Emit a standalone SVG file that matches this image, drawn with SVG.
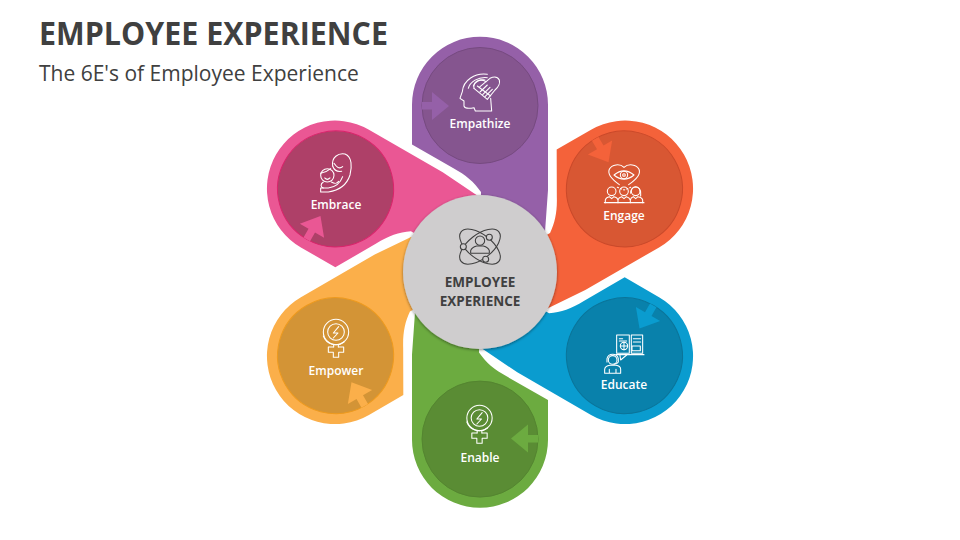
<svg xmlns="http://www.w3.org/2000/svg" xmlns:xlink="http://www.w3.org/1999/xlink" width="960" height="540" viewBox="0 0 960 540">
<style>
text{font-family:"Open Sans","Liberation Sans",sans-serif}
.t{font-size:32px;font-weight:700;fill:#404040}
.s{font-size:21px;fill:#404040}
.l{font-size:12px;font-weight:600;fill:#fff;text-anchor:middle}
.c{font-size:13.5px;font-weight:700;fill:#404040;text-anchor:middle}
.i{fill:none;stroke:#fff;stroke-width:3.2;stroke-linejoin:round;stroke-linecap:round}
.d{fill:none;stroke:#404040;stroke-width:3.2;stroke-linejoin:round;stroke-linecap:round}
</style>
<defs>
<path id="petal" d="M412,104.800 A68,68 0 0 1 548,104.800 V190 L545,232 L480,272 L481,192 C474,182 466,175 453,168 L412,144.500 Z"/>
<path id="arrow" d="M422,102 H432 V92 L449,106 L432,120 V109.500 H422 Z"/>
<circle id="disc" cx="480" cy="105.500" r="58" stroke-width="1"/>
<g id="ring" class="i" transform="scale(.3333)">
<circle r="38"/><circle r="25"/><path d="M-38,12 A40,40 0 0 0 24,30"/><path d="M8,-16 L-8,3 H6 L-8,18"/>
<path d="M-7,39 V45 M7,39 V45"/>
<path d="M-8,45 H-8 V45 H-23 V61 H-8 V76 H8 V61 H23 V45 H8"/>
</g>
<filter id="sh" x="-20%" y="-20%" width="140%" height="140%"><feDropShadow dx="0" dy="1" stdDeviation="1.500" flood-color="#000" flood-opacity=".45"/></filter>
</defs>
<text class="t" x="39" y="45" textLength="349" lengthAdjust="spacingAndGlyphs">EMPLOYEE EXPERIENCE</text>
<text class="s" x="39" y="81">The 6E's of Employee Experience</text>

<g id="embrace">
<g transform="rotate(-60 480 272.300)"><use href="#petal" fill="#EA5794"/><use href="#disc" fill="#AE4068" stroke="#D9246B"/><use href="#arrow" fill="#EA5794"/></g>
<g class="i" transform="translate(260,110) scale(.3333)">
<path d="M218,168 C214,142 235,128 255,132 C277,140 276,172 270,195 C262,220 245,240 205,246 H182 V234 H205 C225,232 240,222 248,200"/>
<path d="M222,160 C230,172 238,178 248,170 M218,168 C222,180 232,186 245,184"/>
<circle cx="202" cy="196" r="20"/><path d="M182,190 C195,188 205,182 212,176 M194,204 Q202,212 210,204"/>
<path d="M190,216 C180,222 182,232 190,234 M214,216 C225,222 230,222 236,214"/>
</g>
<text class="l" x="336" y="209">Embrace</text>
</g>

<g id="empower">
<g transform="rotate(-120 480 272.300)"><use href="#petal" fill="#FBAF4A"/><use href="#disc" fill="#D39436" stroke="#EE9A1E"/><use href="#arrow" fill="#FBAF4A"/></g>
<use href="#ring" transform="translate(336,332)"/>
<text class="l" x="336" y="375">Empower</text>
</g>

<g id="enable">
<g transform="rotate(180 480 272.300)"><use href="#petal" fill="#6CAB40"/><use href="#disc" fill="#5A8C34" stroke="#548530"/><use href="#arrow" fill="#6CAB40"/></g>
<use href="#ring" transform="translate(479.500,418)"/>
<text class="l" x="480" y="462">Enable</text>
</g>

<g id="educate">
<g transform="rotate(120 480 272.300)"><use href="#petal" fill="#0A9CCF"/><use href="#disc" fill="#0981AB" stroke="#0B7499"/><use href="#arrow" fill="#0A9CCF"/></g>
<g class="i" transform="translate(470,270) scale(.3333)">
<path d="M440,195 H478 V250 H440 Z M484,195 H518 V250 H484 Z M438,254 H522"/>
<circle cx="462" cy="228" r="11"/><path d="M451,228 H473 M462,217 V239 M448,206 H458 M448,213 H470 M490,206 H512 M490,216 H512"/>
<rect x="486" y="228" width="25" height="14"/>
<path d="M450,256 L452,270 L470,255"/>
<circle cx="428" cy="270" r="13"/><path d="M411,276 V266 Q414,253 428,253 Q442,253 445,266 V276 M445,276 Q442,282 432,283"/>
<path d="M404,310 V298 Q405,288 420,286 H438 Q452,288 452,298 V310 Z M418,310 V298 M438,310 V298"/>
</g>
<text class="l" x="624" y="389">Educate</text>
</g>

<g id="engage">
<g transform="rotate(60 480 272.300)"><use href="#petal" fill="#F4623A"/><use href="#disc" fill="#D85733" stroke="#C9492A"/><use href="#arrow" fill="#F4623A"/></g>
<g class="i" transform="translate(540,110) scale(.3333)">
<path d="M238,224 C215,208 202,192 208,178 C215,163 240,160 252,172 C265,160 290,163 297,178 C303,192 290,208 266,224"/><path d="M232,232 L252,240 L272,232" stroke-dasharray="4 6"/>
<path d="M222,195 Q252,170 282,195 Q252,220 222,195Z"/><circle cx="252" cy="195" r="11"/><circle cx="252" cy="195" r="4"/>
<path d="M193,278 H312"/>
<circle cx="215" cy="244" r="13"/><circle cx="252" cy="244" r="13"/><circle cx="287" cy="244" r="13"/>
<path d="M196,278 V270 Q198,262 208,260 L215,266 L222,260 Q232,262 234,270 V278 M234,270 Q236,262 245,260 L252,266 L259,260 Q268,262 271,270 V278 M271,270 Q273,262 280,260 L287,266 L294,260 Q306,262 308,270 V278"/>
<path d="M272,250 Q272,232 287,230 Q302,232 302,250 V258"/>
</g>
<text class="l" x="624" y="220">Engage</text>
</g>

<g id="empathize">
<use href="#petal" fill="#9560A8"/><use href="#disc" fill="#85558F" stroke="#764A80"/><use href="#arrow" fill="#9560A8"/>
<g class="i" transform="translate(400,30) scale(.3333)">
<path d="M262,133 C225,128 190,150 187,185 L180,205 L192,213 L192,228 Q195,238 222,233 L226,243 H275 L272,205"/>
<path d="M262,143 C235,140 210,155 205,175 M255,150 C240,148 225,155 220,168"/>
<path d="M222,175 C218,155 240,143 258,155"/>
<path d="M222,175 L262,208 L285,180 Q302,165 298,150 Q290,135 270,145 L240,170 M232,168 L272,198"/>
<path d="M240,186 L262,165 M248,194 L270,172 M255,200 L277,178"/>
</g>
<text class="l" x="480" y="128">Empathize</text>
</g>

<g id="center">
<circle cx="480" cy="272" r="77" fill="#CFCDCE" filter="url(#sh)"/>
<g class="d" transform="translate(400,190) scale(.3333)">
<ellipse cx="240" cy="170" rx="72" ry="36" transform="rotate(38 240 170)"/>
<ellipse cx="240" cy="170" rx="72" ry="36" transform="rotate(-38 240 170)"/>
<circle cx="240" cy="152" r="14"/>
<path d="M212,190 V182 Q215,172 230,168 H250 Q265,172 268,182 V190 Z"/>
<circle cx="190" cy="170" r="9" fill="#CFCDCE"/><circle cx="268" cy="142" r="9" fill="#CFCDCE"/><circle cx="257" cy="208" r="9" fill="#CFCDCE"/>
</g>
<text class="c" x="480" y="287">EMPLOYEE</text>
<text class="c" x="480" y="305.500">EXPERIENCE</text>
</g>
</svg>
